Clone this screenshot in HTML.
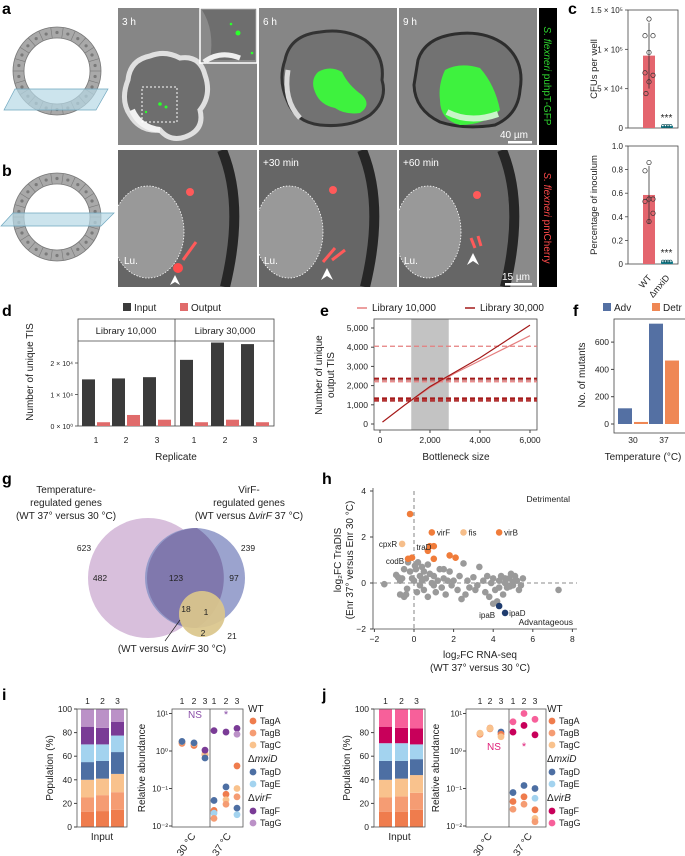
<!DOCTYPE html>
<html><head><meta charset="utf-8">
<style>
html,body{margin:0;padding:0;background:#fff;}
svg{display:block;font-family:"Liberation Sans",Arial,sans-serif;}
</style></head>
<body>
<svg id="fig" width="685" height="856" viewBox="0 0 685 856" xmlns="http://www.w3.org/2000/svg">
<defs>
<clipPath id="ca1"><rect x="118" y="8" width="139" height="137"/></clipPath>
<clipPath id="ca2"><rect x="259" y="8" width="138" height="137"/></clipPath>
<clipPath id="ca3"><rect x="399" y="8" width="138" height="137"/></clipPath>
<clipPath id="cb1"><rect x="118" y="150" width="139" height="137"/></clipPath>
<clipPath id="cb2"><rect x="259" y="150" width="138" height="137"/></clipPath>
<clipPath id="cb3"><rect x="399" y="150" width="138" height="137"/></clipPath>
</defs>
<g font-weight="bold" font-size="16" fill="#000">
<text x="2" y="14">a</text>
<text x="2" y="176">b</text>
<text x="568" y="14">c</text>
<text x="2" y="316">d</text>
<text x="320" y="316">e</text>
<text x="573" y="316">f</text>
<text x="2" y="484">g</text>
<text x="322" y="484">h</text>
<text x="2" y="700">i</text>
<text x="322" y="700">j</text>
</g>
<g id="schem"></g>

<g>
<g clip-path="url(#ca1)">
<rect x="118" y="8" width="139" height="137" fill="#868686"/>
<path d="M128 80 Q130 60 150 56 Q165 50 180 58 Q200 55 205 75 Q212 95 200 110 Q205 130 185 137 Q170 142 160 130 Q140 132 130 115 Q120 100 128 80Z" fill="#6e6e6e" stroke="#e0e0e0" stroke-width="5"/>
<path d="M132 110 Q140 128 160 130" fill="none" stroke="#f2f2f2" stroke-width="6"/>
<rect x="142" y="87" width="35" height="35" fill="none" stroke="#fff" stroke-width="1" stroke-dasharray="2,2"/>
<circle cx="160" cy="104" r="1.8" fill="#2cff2c"/><circle cx="166" cy="107" r="1.5" fill="#2cff2c"/><circle cx="146" cy="112" r="1.2" fill="#2cff2c"/>
<rect x="200" y="8" width="57" height="55" fill="#8a8a8a" stroke="#fff" stroke-width="1.5"/>
<path d="M202 10 Q215 30 210 60 L255 60 L255 10Z" fill="#6e6e6e"/>
<path d="M204 62 Q220 50 240 58" stroke="#eee" stroke-width="5" fill="none"/>
<circle cx="238" cy="33" r="2.5" fill="#2cff2c"/><circle cx="231" cy="24" r="1.3" fill="#2cff2c"/><circle cx="252" cy="53" r="1.3" fill="#2cff2c"/>
<text x="122" y="25" fill="#fff" font-size="10">3 h</text>
</g>
<g clip-path="url(#ca2)">
<rect x="259" y="8" width="138" height="137" fill="#868686"/>
<path d="M285 60 Q290 35 320 32 Q345 28 365 40 Q385 55 382 80 Q388 100 370 115 Q350 128 320 125 Q295 122 287 100 Q278 80 285 60Z" fill="#727272" stroke="#333" stroke-width="3"/>
<path d="M288 70 Q283 100 300 118" fill="none" stroke="#d9d9d9" stroke-width="5"/>
<path d="M318 72 Q330 65 342 72 Q348 85 362 95 Q372 105 360 113 Q345 115 335 108 Q320 105 315 92 Q310 80 318 72Z" fill="#3ef23e"/>
<text x="263" y="25" fill="#fff" font-size="10">6 h</text>
</g>
<g clip-path="url(#ca3)">
<rect x="399" y="8" width="138" height="137" fill="#868686"/>
<path d="M418 60 Q425 38 455 34 Q485 30 505 45 Q525 62 520 90 Q518 115 495 125 Q465 130 440 122 Q415 110 414 85Z" fill="#727272" stroke="#2d2d2d" stroke-width="3"/>
<path d="M445 70 Q460 62 480 68 Q495 85 500 110 Q485 125 460 125 Q440 120 440 100 Q438 85 445 70Z" fill="#3ef23e"/>
<path d="M447 112 Q470 124 498 114" stroke="#c8f5c8" stroke-width="6" fill="none"/>
<text x="403" y="25" fill="#fff" font-size="10">9 h</text>
<text x="500" y="138" fill="#fff" font-size="10">40 µm</text>
<rect x="508" y="141" width="24" height="2.5" fill="#fff"/>
</g>
<rect x="539" y="8" width="18" height="137" fill="#000"/>
<text transform="translate(544,76) rotate(90)" text-anchor="middle" fill="#2fd62f" font-size="10"><tspan font-style="italic">S. flexneri</tspan> puhpT-GFP</text>
</g>
<g>
<g clip-path="url(#cb1)">
<rect x="118" y="150" width="139" height="137" fill="#666"/>
<path d="M225 150 Q250 200 228 287 L257 287 L257 150Z" fill="#8a8a8a"/>
<path d="M222 150 Q245 205 225 287" stroke="#262626" stroke-width="10" fill="none"/>
<ellipse cx="148" cy="232" rx="36" ry="46" fill="#999" stroke="#fff" stroke-width="0.8" stroke-dasharray="1.5,1.5"/>
<circle cx="190" cy="192" r="4" fill="#ff5a5a"/><circle cx="178" cy="268" r="5" fill="#ff4d4d"/><path d="M183 260 L196 242" stroke="#ff5a5a" stroke-width="3"/>
<text x="124" y="264" fill="#fff" font-size="10">Lu.</text>
<path d="M175 275 L170 285 L175 282 L180 285Z" fill="#fff"/>
</g>
<g clip-path="url(#cb2)">
<rect x="259" y="150" width="138" height="137" fill="#666"/>
<path d="M365 150 Q390 200 368 287 L397 287 L397 150Z" fill="#8a8a8a"/>
<path d="M362 150 Q385 205 365 287" stroke="#262626" stroke-width="10" fill="none"/>
<ellipse cx="289" cy="232" rx="34" ry="46" fill="#999" stroke="#fff" stroke-width="0.8" stroke-dasharray="1.5,1.5"/>
<circle cx="333" cy="190" r="4" fill="#ff5a5a"/><path d="M323 262 L335 248 M332 260 L345 250" stroke="#ff5a5a" stroke-width="3"/>
<text x="264" y="264" fill="#fff" font-size="10">Lu.</text>
<text x="263" y="166" fill="#fff" font-size="10">+30 min</text>
<path d="M327 268 L321 280 L327 276 L333 280Z" fill="#fff"/>
</g>
<g clip-path="url(#cb3)">
<rect x="399" y="150" width="138" height="137" fill="#666"/>
<path d="M505 150 Q530 200 508 287 L537 287 L537 150Z" fill="#8a8a8a"/>
<path d="M502 150 Q525 205 505 287" stroke="#262626" stroke-width="10" fill="none"/>
<ellipse cx="428" cy="232" rx="33" ry="46" fill="#999" stroke="#fff" stroke-width="0.8" stroke-dasharray="1.5,1.5"/>
<circle cx="477" cy="195" r="4" fill="#ff5a5a"/><path d="M471 238 L475 248 M478 236 L481 246" stroke="#ff5a5a" stroke-width="3"/>
<text x="404" y="264" fill="#fff" font-size="10">Lu.</text>
<text x="403" y="166" fill="#fff" font-size="10">+60 min</text>
<text x="502" y="280" fill="#fff" font-size="10">15 µm</text>
<rect x="505" y="283" width="27" height="2.5" fill="#fff"/>
<path d="M473 253 L467 265 L473 261 L479 265Z" fill="#fff"/>
</g>
<rect x="539" y="150" width="18" height="137" fill="#000"/>
<text transform="translate(544,218) rotate(90)" text-anchor="middle" fill="#ff4a4a" font-size="10"><tspan font-style="italic">S. flexneri</tspan> pmCherry</text>
</g>
<g id="charts"></g>
</svg>
<script>
const cTopMean=[92000,2500];
const cTopSd=[42000,800];
const cTopDots=[138500,117300,117300,96000,70100,67000,58700,43800];
const cBotMean=[0.585,0.02];
const cBotSd=[0.245,0.005];
const cBotDots=[0.86,0.79,0.55,0.55,0.53,0.43,0.36];
const cGroups=["WT","ΔmxiD"];
const dReplicates=["1","2","3"];
const dInput10=[14800,15100,15500];
const dOutput10=[1200,3500,2000];
const dInput30=[21000,26500,26000];
const dOutput30=[1200,2000,1200];
const dTicks=[0,10000,20000];
const dTickLabels=["0 × 10⁰","1 × 10⁴","2 × 10⁴"];
const eX=[100,1000,2000,3000,4000,5000,6000];
const eLib10=[100,1000,1900,2650,3300,3950,4600];
const eLib30=[100,1000,1950,2700,3450,4300,5150];
const eDash10=[4050,2200,1250];
const eDash30=[2380,2300,1350,1300,1200];
const eBand=[1250,2750];
const eXTicks=[0,2000,4000,6000];
const eYTicks=[0,1000,2000,3000,4000,5000];
const fTemps=["30","37"];
const fAdv=[115,735];
const fDetr=[15,465];
const fYTicks=[0,200,400,600];
const gCounts=["623","482","123","97","239","18","1","2","21"];
const hGrayX=[-1.5,-0.9,-0.8,-0.7,-0.5,-0.5,-0.4,-0.3,-0.2,-0.1,0,0.1,0.2,0.3,0.3,0.4,0.5,0.5,0.6,0.7,0.7,0.8,0.9,1.0,1.1,1.2,1.3,1.4,1.5,1.6,1.7,1.8,1.9,2.0,2.2,2.3,2.5,2.4,2.6,2.7,2.8,3.0,3.2,3.3,3.5,3.6,3.7,3.8,3.9,4.0,4.1,4.2,4.3,4.4,4.5,4.6,4.7,4.8,4.9,5.0,5.1,5.2,5.3,5.4,5.5,-0.35,0.15,0.05,1.5,-0.6,7.3,4.0,4.6,4.85,-0.7,0.4,1.0,3.1,4.3,5.0];
const hGrayY=[-0.05,0.35,0.25,0.1,0.6,-0.6,-0.5,0.9,0.5,0.2,0.1,0.6,0.9,0.3,-0.1,0.7,0.5,-0.3,0.2,0.8,-0.6,0.4,0,0.3,-0.4,0.1,0.6,-0.2,0.2,-0.5,0.1,0.5,-0.1,0.1,-0.3,0.3,0.85,-0.7,-0.5,0.1,-0.2,0.25,-0.1,0.7,0.1,-0.4,0.3,-0.6,0,0.2,-0.3,-0.8,0.1,0.3,-0.5,0,-0.2,0.2,0.4,-0.1,0.3,0.1,-0.3,-0.1,0.2,-0.25,-0.4,0.75,0.6,0.2,-0.3,-0.9,0.2,-0.15,-0.5,0.1,-0.1,-0.3,-0.2,0.05];
const hOrangeX=[-0.2,0.9,4.3,0.8,1.0,0.7,-0.3,-0.1,1.0,1.8,2.1];
const hOrangeY=[3.0,2.2,2.2,1.6,1.6,1.4,1.05,1.1,1.05,1.2,1.1];
const hLightX=[2.5,-0.6];
const hLightY=[2.2,1.7];
const hBlueX=[4.3,4.6];
const hBlueY=[-1.0,-1.3];
const hXTicks=[-2,0,2,4,6,8];
const hYTicks=[-2,0,2,4];
const iStack1=[13,12,15,15,15,15,15];
const iStack2=[13.5,13.5,14,15,14,14,16];
const iStack3=[14.5,15,15.5,18.5,14,11.5,11];
const iCol30=[[1.6,1.7,1.75,1.8],[1.4,1.55,1.6,1.65],[0.8,0.85,1.05,0.65]];
const iCol30Tag=[["A","B","C","D"],["A","B","C","D"],["A","C","F","D"]];
const iCol37=[[3.5,0.048,0.026,0.022,0.016],[3.2,0.11,0.07,0.05,0.038],[4.0,2.8,0.4,0.1,0.06,0.03,0.02]];
const iCol37Tag=[["F","D","A","E","B"],["F","D","A","C","B"],["F","G","A","C","B","D","E"]];
const jStack1=[13,12,15,16,15,14,15];
const jStack2=[13,13,15,15,15,13,16];
const jStack3=[14.5,14.5,15,13.5,12.5,13.5,16.5];
const jCol30=[[2.8,2.9,3.0],[3.9,4.1,4.0],[3.2,2.8,2.4]];
const jCol30Tag=[["A","B","C"],["A","B","C"],["D","A","C"]];
const jCol37=[[6,3.2,0.078,0.045,0.028],[10,4.8,0.12,0.06,0.038],[7,2.7,0.1,0.055,0.027,0.016,0.013]];
const jCol37Tag=[["G","F","D","A","B"],["G","F","D","A","B"],["G","F","D","E","A","C","B"]];
const popTicks=[0,20,40,60,80,100];
const logTicks=[-2,-1,0,1];
const logLabels=["10⁻²","10⁻¹","10⁰","10¹"];

const NS='http://www.w3.org/2000/svg';
const root=document.getElementById('charts');
function E(tag,attrs,parent){const el=document.createElementNS(NS,tag);for(const k in attrs)el.setAttribute(k,attrs[k]);(parent||root).appendChild(el);return el;}
function T(x,y,txt,attrs,parent){const a=Object.assign({x:x,y:y,'font-size':9,fill:'#222'},attrs||{});const el=E('text',a,parent);el.textContent=txt;return el;}
function G(name){const g=E('g',{});

return g;}

(function(){
const sg=document.getElementById('schem');
[[71,[[15,89],[108,89],[96,110],[4,110]]],[217,[[13,213],[114,213],[101,226],[1,226]]]].forEach((d,k)=>{
 const cy=d[0],cx=57;
 const ring=E('circle',{cx:cx,cy:cy,r:38.5,fill:'#fff',stroke:'#a9a9a9','stroke-width':11},sg);
 
 
 E('circle',{cx:cx,cy:cy,r:44,fill:'none',stroke:'#777','stroke-width':0.8},sg);
 E('circle',{cx:cx,cy:cy,r:33,fill:'none',stroke:'#777','stroke-width':0.8},sg);
 for(let i=0;i<22;i++){const a=i/22*2*Math.PI;E('line',{x1:cx+33*Math.cos(a),y1:cy+33*Math.sin(a),x2:cx+44*Math.cos(a),y2:cy+44*Math.sin(a),stroke:'#777','stroke-width':0.6},sg);
 const b=a+Math.PI/22;E('circle',{cx:cx+38.5*Math.cos(b),cy:cy+38.5*Math.sin(b),r:1.6,fill:'#7a7a7a'},sg);}
 const pl=E('polygon',{points:d[1].map(p=>p.join(',')).join(' '),fill:'#b6d8e6','fill-opacity':0.7,stroke:'#6fa7bf','stroke-width':0.7},sg);
 
 
});
})();

(function(){
function chart(top,bot,maxv,means,sds,dots,ticks,labels,title,starY,name){
 const g=G(name);
 const L=628,R=678;
 const y=v=>bot-(v/maxv)*(bot-top);
 E('rect',{x:L,y:top,width:R-L,height:bot-top,fill:'none',stroke:'#444','stroke-width':0.8},g);
 ticks.forEach((t,i)=>{E('line',{x1:L-3,x2:L,y1:y(t),y2:y(t),stroke:'#444','stroke-width':0.8},g);T(L-5,y(t)+3,labels[i],{'text-anchor':'end','font-size':8},g);});
 const bx=[643,661],cols=['#e4656e','#1b8a9a'];
 means.forEach((m,i)=>{const b=E('rect',{x:bx[i],y:y(m),width:12,height:bot-y(m),fill:cols[i]},g);
 
 
 E('line',{x1:bx[i]+6,x2:bx[i]+6,y1:y(m+sds[i]),y2:y(Math.max(0,m-sds[i])),stroke:'#333','stroke-width':0.8},g);});
 const offs=[0,-4,4,0,-4,4,0,-3];
 dots.forEach((v,i)=>{const c=E('circle',{cx:649+offs[i%offs.length],cy:y(v),r:2.2,fill:'none',stroke:'#333','stroke-width':0.7},g);
 
 });
 for(let i=0;i<4;i++)E('circle',{cx:663+i*2.5,cy:y(means[1]),r:1.6,fill:'none',stroke:'#0d4f59','stroke-width':0.6},g);
 T(666.5,starY,'***',{'text-anchor':'middle','font-size':10},g);
 const tt=T(0,0,title,{transform:`translate(597,${(top+bot)/2}) rotate(-90)`,'text-anchor':'middle','font-size':9.5},g);
 
 
}
chart(10,128,150000,cTopMean,cTopSd,cTopDots,[0,50000,100000,150000],["0","5 × 10⁴","1 × 10⁵","1.5 × 10⁵"],"CFUs per well",121,'cfu-chart');
chart(146,264,1.0,cBotMean,cBotSd,cBotDots,[0,0.2,0.4,0.6,0.8,1.0],["0","0.2","0.4","0.6","0.8","1.0"],"Percentage of inoculum",256,'inoculum-chart');
const g=G('c-x-labels');
T(0,0,cGroups[0],{transform:'translate(652,278) rotate(-50)','text-anchor':'end','font-size':9},g);
T(0,0,cGroups[1],{transform:'translate(670,278) rotate(-50)','text-anchor':'end','font-size':9},g);
})();

(function(){
const g=G('panel-d-chart');
const base=426,per=63/20000;
const y=v=>base-v*per;
E('rect',{x:78,y:319,width:196,height:107,fill:'none',stroke:'#444','stroke-width':0.8},g);
E('line',{x1:78,x2:274,y1:341,y2:341,stroke:'#444','stroke-width':0.8},g);
E('line',{x1:175,x2:175,y1:319,y2:426,stroke:'#444','stroke-width':0.8},g);
T(126,334,'Library 10,000',{'text-anchor':'middle','font-size':9.5},g);
T(225,334,'Library 30,000',{'text-anchor':'middle','font-size':9.5},g);
dTicks.forEach((t,i)=>{E('line',{x1:75,x2:78,y1:y(t),y2:y(t),stroke:'#444','stroke-width':0.8},g);T(73,y(t)+3,dTickLabels[i],{'text-anchor':'end','font-size':7},g);});
const xc=[[96,126,157],[194,225,255]];
[[dInput10,dOutput10],[dInput30,dOutput30]].forEach((pair,p)=>{
 dReplicates.forEach((r,i)=>{
  const b1=E('rect',{x:xc[p][i]-14,y:y(pair[0][i]),width:13,height:base-y(pair[0][i]),fill:'#3b3b3b'},g);
  
  
  const b2=E('rect',{x:xc[p][i]+1,y:y(pair[1][i]),width:13,height:base-y(pair[1][i]),fill:'#e06b6b'},g);
  
  
  T(xc[p][i],443,r,{'text-anchor':'middle','font-size':8.5},g);
 });
});
T(176,460,'Replicate',{'text-anchor':'middle','font-size':10},g);
T(0,0,'Number of unique TIS',{transform:'translate(33,372) rotate(-90)','text-anchor':'middle','font-size':10},g);
const lg=G('legend-d');
E('rect',{x:123,y:303,width:8,height:8,fill:'#3b3b3b'},lg);T(134,311,'Input',{'font-size':10},lg);
E('rect',{x:180,y:303,width:8,height:8,fill:'#e06b6b'},lg);T(191,311,'Output',{'font-size':10},lg);
})();

(function(){
const g=G('panel-e-chart');
const x=v=>380+v/6000*150, y=v=>424-v*0.0192;
E('rect',{x:x(eBand[0]),y:319,width:x(eBand[1])-x(eBand[0]),height:111,fill:'#c3c3c3'},g);
E('rect',{x:374,y:319,width:163,height:111,fill:'none',stroke:'#444','stroke-width':0.8},g);
eDash10.forEach(v=>{const l=E('line',{x1:374,x2:537,y1:y(v),y2:y(v),stroke:'#e57f7f','stroke-width':1.3,'stroke-dasharray':'5,3'},g);

});
eDash30.forEach(v=>{const l=E('line',{x1:374,x2:537,y1:y(v),y2:y(v),stroke:'#a31a1a','stroke-width':1.3,'stroke-dasharray':'5,3'},g);

});
const l10=E('polyline',{points:eX.map((v,i)=>x(v)+','+y(eLib10[i])).join(' '),fill:'none',stroke:'#e57f7f','stroke-width':1.2},g);


const l30=E('polyline',{points:eX.map((v,i)=>x(v)+','+y(eLib30[i])).join(' '),fill:'none',stroke:'#a31a1a','stroke-width':1.2},g);


eYTicks.forEach(t=>{E('line',{x1:371,x2:374,y1:y(t),y2:y(t),stroke:'#444'},g);T(368,y(t)+3,t.toLocaleString('en-US'),{'text-anchor':'end','font-size':8.5},g);});
eXTicks.forEach(t=>{E('line',{x1:x(t),x2:x(t),y1:430,y2:433,stroke:'#444'},g);T(x(t),443,t.toLocaleString('en-US'),{'text-anchor':'middle','font-size':8.5},g);});
T(456,460,'Bottleneck size',{'text-anchor':'middle','font-size':10},g);
T(0,0,'Number of unique',{transform:'translate(322,375) rotate(-90)','text-anchor':'middle','font-size':10},g);
T(0,0,'output TIS',{transform:'translate(334,375) rotate(-90)','text-anchor':'middle','font-size':10},g);
const lg=G('legend-e');
E('line',{x1:357,x2:367,y1:308,y2:308,stroke:'#e57f7f','stroke-width':1.5},lg);T(372,311,'Library 10,000',{'font-size':10},lg);
E('line',{x1:465,x2:475,y1:308,y2:308,stroke:'#a31a1a','stroke-width':1.5},lg);T(480,311,'Library 30,000',{'font-size':10},lg);
})();

(function(){
const g=G('panel-f-chart');
const y=v=>424-v*0.1365;
E('rect',{x:614,y:319,width:72,height:114,fill:'none',stroke:'#444','stroke-width':0.8},g);
fYTicks.forEach(t=>{E('line',{x1:611,x2:614,y1:y(t),y2:y(t),stroke:'#444'},g);T(609,y(t)+3,String(t),{'text-anchor':'end','font-size':8.5},g);});
const cx=[633,664];
fTemps.forEach((t,i)=>{
 const a=E('rect',{x:cx[i]-15,y:y(fAdv[i]),width:14,height:424-y(fAdv[i]),fill:'#5470a3'},g);
 
 
 const d=E('rect',{x:cx[i]+1,y:y(fDetr[i]),width:14,height:424-y(fDetr[i]),fill:'#ef8754'},g);
 
 
 T(cx[i],443,t,{'text-anchor':'middle','font-size':8.5},g);
});
T(643,460,'Temperature (°C)',{'text-anchor':'middle','font-size':10},g);
T(0,0,'No. of mutants',{transform:'translate(585,375) rotate(-90)','text-anchor':'middle','font-size':10},g);
const lg=G('legend-f');
E('rect',{x:603,y:303,width:8,height:8,fill:'#5470a3'},lg);T(614,311,'Adv',{'font-size':10},lg);
E('rect',{x:652,y:303,width:8,height:8,fill:'#ef8754'},lg);T(663,311,'Detr',{'font-size':10},lg);
})();

(function(){
const g=G('venn-diagram');
const c1=E('circle',{cx:148,cy:578,r:60,fill:'#d8bfdc'},g);


const c2=E('circle',{cx:195,cy:578,r:50,fill:'#8a93c6','fill-opacity':0.85},g);


E('path',{d:'M 197 528 A 50 50 0 0 0 197 628 A 60 60 0 0 0 197 528 Z',fill:'#8078ad'},g);
const c3=E('circle',{cx:202,cy:614,r:23,fill:'#f1d98e','fill-opacity':0.85},g);


E('circle',{cx:202,cy:614,r:23,fill:'#c8b58a','fill-opacity':0.5},g);
const pos=[[84,551],[100,581],[176,581],[234,581],[248,551],[186,612],[206,615],[203,636],[232,639]];
gCounts.forEach((c,i)=>T(pos[i][0],pos[i][1],c,{'text-anchor':'middle','font-size':8.5},g));
E('line',{x1:180,y1:620,x2:165,y2:641,stroke:'#222','stroke-width':0.7},g);
[['Temperature-',493],['regulated genes',506],['(WT 37° versus 30 °C)',519]].forEach(a=>T(66,a[1],a[0],{'text-anchor':'middle','font-size':10},g));
[['VirF-',493],['regulated genes',506]].forEach(a=>T(249,a[1],a[0],{'text-anchor':'middle','font-size':10},g));
const t=T(249,519,'(WT versus Δ',{'text-anchor':'middle','font-size':10},g);
const s=E('tspan',{'font-style':'italic'},t);s.textContent='virF';
const s2=E('tspan',{},t);s2.textContent=' 37 °C)';
const t2=T(172,652,'(WT versus Δ',{'text-anchor':'middle','font-size':10},g);
const s3=E('tspan',{'font-style':'italic'},t2);s3.textContent='virF';
const s4=E('tspan',{},t2);s4.textContent=' 30 °C)';
})();

(function(){
const g=G('panel-h-scatter');
const x=v=>414+v*19.8, y=v=>583-v*23;
E('line',{x1:373,x2:373,y1:488,y2:629,stroke:'#444','stroke-width':0.8},g);
E('line',{x1:373,x2:577,y1:629,y2:629,stroke:'#444','stroke-width':0.8},g);
E('line',{x1:x(0),x2:x(0),y1:491,y2:629,stroke:'#666','stroke-dasharray':'4,3','stroke-width':0.8},g);
E('line',{x1:373,x2:577,y1:y(0),y2:y(0),stroke:'#666','stroke-dasharray':'4,3','stroke-width':0.8},g);
hYTicks.forEach(t=>{E('line',{x1:370,x2:373,y1:y(t),y2:y(t),stroke:'#444'},g);T(366,y(t)+3,t<0?'−'+(-t):String(t),{'text-anchor':'end','font-size':8.5},g);});
hXTicks.forEach(t=>{E('line',{x1:x(t),x2:x(t),y1:629,y2:632,stroke:'#444'},g);T(x(t),642,t<0?'−'+(-t):String(t),{'text-anchor':'middle','font-size':8.5},g);});
hGrayX.forEach((v,i)=>{const c=E('circle',{cx:x(v),cy:y(hGrayY[i]),r:3.3,fill:'#9a9a9a'},g);

});
hOrangeX.forEach((v,i)=>{const c=E('circle',{cx:x(v),cy:y(hOrangeY[i]),r:3.3,fill:'#f07c3a'},g);

});
hLightX.forEach((v,i)=>{const c=E('circle',{cx:x(v),cy:y(hLightY[i]),r:3.3,fill:'#f6be8a'},g);

});
hBlueX.forEach((v,i)=>{const c=E('circle',{cx:x(v),cy:y(hBlueY[i]),r:3.3,fill:'#1f3c6e'},g);

});
const lb=[['virF',x(0.9)+5,y(2.2)+3,'start'],['fis',x(2.5)+5,y(2.2)+3,'start'],['virB',x(4.3)+5,y(2.2)+3,'start'],['cpxR',x(-0.6)-5,y(1.7)+3,'end'],['traD',x(0.5),y(1.6)+4,'middle'],['codB',x(-0.3)-4,y(1.05)+5,'end'],['ipaB',x(4.3)-4,y(-1.0)+12,'end'],['ipaD',x(4.6)+4,y(-1.3)+3,'start']];
lb.forEach(a=>T(a[1],a[2],a[0],{'text-anchor':a[3],'font-size':8},g));
T(570,502,'Detrimental',{'text-anchor':'end','font-size':8.5},g);
T(573,625,'Advantageous',{'text-anchor':'end','font-size':8.5},g);
T(0,0,'log₂FC TraDIS',{transform:'translate(341,560) rotate(-90)','text-anchor':'middle','font-size':10},g);
T(0,0,'(Enr 37° versus Enr 30 °C)',{transform:'translate(353,560) rotate(-90)','text-anchor':'middle','font-size':10},g);
T(480,658,'log₂FC RNA-seq',{'text-anchor':'middle','font-size':10},g);
T(480,671,'(WT 37° versus 30 °C)',{'text-anchor':'middle','font-size':10},g);
})();

const tagColI={A:'#ef7c4d',B:'#f59c73',C:'#f9c28d',D:'#4d6fa3',E:'#a3d3ef',F:'#7a3b96',G:'#bb91c7'};
const tagColJ={A:'#ef7c4d',B:'#f59c73',C:'#f9c28d',D:'#4d6fa3',E:'#a3d3ef',F:'#c8005a',G:'#f7609a'};
function stackPanel(name,L,R,bx,stacks,cols){
 const g=G(name);
 const y=v=>827-v*1.18;
 const order=['A','B','C','D','E','F','G'];
 stacks.forEach((s,bi)=>{let acc=0;s.forEach((v,k)=>{const r=E('rect',{x:bx[bi],y:y(acc+v),width:13,height:v*1.18,fill:cols[order[k]]},g);
 
 
 acc+=v;});
 T(bx[bi]+6.5,704,String(bi+1),{'text-anchor':'middle','font-size':8.5},g);});
 E('rect',{x:L,y:709,width:R-L,height:118,fill:'none',stroke:'#555','stroke-width':0.8},g);
 popTicks.forEach(t=>{E('line',{x1:L-3,x2:L,y1:y(t),y2:y(t),stroke:'#444'},g);T(L-5,y(t)+3,String(t),{'text-anchor':'end','font-size':8.5},g);});
 T((L+R)/2,840,'Input',{'text-anchor':'middle','font-size':10},g);
 T(0,0,'Population (%)',{transform:`translate(${L-24},768) rotate(-90)`,'text-anchor':'middle','font-size':10},g);
}
function abundPanel(name,L,M,R,top,cols30,cols37,c30,t30,c37,t37,cols,nsX,nsY,stX,stY,nsCol){
 const g=G(name);
 const y=v=>826-(Math.log10(v)+2)*37.5;
 E('rect',{x:L,y:top,width:R-L,height:827-top,fill:'none',stroke:'#555','stroke-width':0.8},g);
 E('line',{x1:M,x2:M,y1:top,y2:827,stroke:'#555','stroke-width':0.8},g);
 logTicks.forEach((t,i)=>{E('line',{x1:L-3,x2:L,y1:y(Math.pow(10,t)),y2:y(Math.pow(10,t)),stroke:'#444'},g);T(L-4,y(Math.pow(10,t))+3,logLabels[i],{'text-anchor':'end','font-size':8},g);});
 [[cols30,c30,t30],[cols37,c37,t37]].forEach(set=>{set[0].forEach((cx,ci)=>{
  T(cx,704,String(ci+1),{'text-anchor':'middle','font-size':8.5},g);
  set[1][ci].forEach((v,k)=>{const tag=set[2][ci][k];const c=E('circle',{cx:cx,cy:y(v),r:3.4,fill:cols[tag]},g);
  
  });
 });});
 T(nsX,nsY,'NS',{'text-anchor':'middle','font-size':10,fill:nsCol},g);
 T(stX,stY,'*',{'text-anchor':'middle','font-size':11,fill:nsCol},g);
 T(0,0,'30 °C',{transform:`translate(${(L+M)/2+5},836) rotate(-55)`,'text-anchor':'end','font-size':10},g);
 T(0,0,'37 °C',{transform:`translate(${(M+R)/2+5},836) rotate(-55)`,'text-anchor':'end','font-size':10},g);
 T(0,0,'Relative abundance',{transform:`translate(${L-27},768) rotate(-90)`,'text-anchor':'middle','font-size':10},g);
}
function legend(name,x,cols,mut){
 const g=G(name);
 const rows=[['WT','h',712],['TagA','A',724],['TagB','B',736],['TagC','C',748],['Δ','h2',762,'mxiD'],['TagD','D',775],['TagE','E',787],['Δ','h2',801,mut],['TagF','F',814],['TagG','G',826]];
 rows.forEach(r=>{
  if(r[1]==='h')T(x,r[2],r[0],{'font-size':10},g);
  else if(r[1]==='h2'){const t=T(x,r[2],'Δ',{'font-size':10},g);const s=E('tspan',{'font-style':'italic'},t);s.textContent=r[3];}
  else{const c=E('circle',{cx:x+5,cy:r[2]-3,r:3.4,fill:cols[r[1]]},g);
  
  
  T(x+12,r[2],r[0],{'font-size':9},g);}
 });
}
stackPanel('panel-i-stacked',77,127,[81,96,111],[iStack1,iStack2,iStack3],tagColI);
abundPanel('panel-i-abundance',172,210,243,709,[182,194,205],[214,226,237],iCol30,iCol30Tag,iCol37,iCol37Tag,tagColI,195,718,226,718,'#8a4fa8');
legend('legend-i',248,tagColI,'virF');
stackPanel('panel-j-stacked',374,425,[379,395,410],[jStack1,jStack2,jStack3],tagColJ);
abundPanel('panel-j-abundance',466,509,546,709,[480,490,501],[513,524,535],jCol30,jCol30Tag,jCol37,jCol37Tag,tagColJ,494,750,524,750,'#e0207a');
legend('legend-j',547,tagColJ,'virB');
</script>
</body></html>
